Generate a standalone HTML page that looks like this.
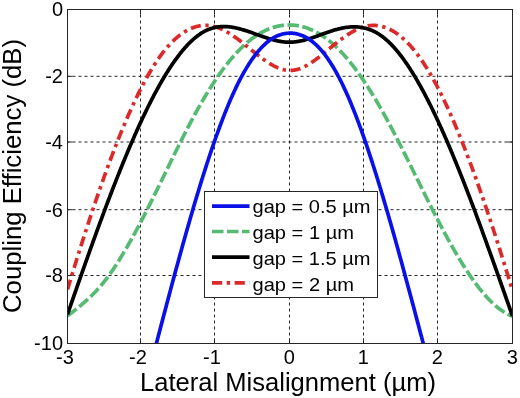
<!DOCTYPE html>
<html><head><meta charset="utf-8"><style>
html,body{margin:0;padding:0;background:#fff;}
svg{display:block;filter:blur(0.3px);}
text{font-family:"Liberation Sans", Arial, Helvetica, sans-serif;fill:#000;}
</style></head><body>
<svg width="520" height="398" viewBox="0 0 520 398">
<rect width="520" height="398" fill="#fff"/>
<defs><clipPath id="ax"><rect x="67.5" y="9.5" width="445.0" height="334.0"/></clipPath></defs>
<line x1="140.5" y1="9.5" x2="140.5" y2="343.5" stroke="#262626" stroke-width="1" stroke-dasharray="3,3" stroke-dashoffset="1"/>
<line x1="214.5" y1="9.5" x2="214.5" y2="343.5" stroke="#262626" stroke-width="1" stroke-dasharray="3,3" stroke-dashoffset="1"/>
<line x1="289.5" y1="9.5" x2="289.5" y2="343.5" stroke="#262626" stroke-width="1" stroke-dasharray="3,3" stroke-dashoffset="1"/>
<line x1="363.5" y1="9.5" x2="363.5" y2="343.5" stroke="#262626" stroke-width="1" stroke-dasharray="3,3" stroke-dashoffset="1"/>
<line x1="437.5" y1="9.5" x2="437.5" y2="343.5" stroke="#262626" stroke-width="1" stroke-dasharray="3,3" stroke-dashoffset="1"/>
<line x1="67.5" y1="76.3" x2="512.5" y2="76.3" stroke="#262626" stroke-width="1" stroke-dasharray="3,3" stroke-dashoffset="1"/>
<line x1="67.5" y1="142.0" x2="512.5" y2="142.0" stroke="#262626" stroke-width="1" stroke-dasharray="3,3" stroke-dashoffset="1"/>
<line x1="67.5" y1="209.7" x2="512.5" y2="209.7" stroke="#262626" stroke-width="1" stroke-dasharray="3,3" stroke-dashoffset="1"/>
<line x1="67.5" y1="275.5" x2="512.5" y2="275.5" stroke="#262626" stroke-width="1" stroke-dasharray="3,3" stroke-dashoffset="1"/>
<line x1="67.5" y1="343.5" x2="67.5" y2="338.5" stroke="#262626"/>
<line x1="67.5" y1="9.5" x2="67.5" y2="14.5" stroke="#262626"/>
<line x1="140.5" y1="343.5" x2="140.5" y2="338.5" stroke="#262626"/>
<line x1="140.5" y1="9.5" x2="140.5" y2="14.5" stroke="#262626"/>
<line x1="214.5" y1="343.5" x2="214.5" y2="338.5" stroke="#262626"/>
<line x1="214.5" y1="9.5" x2="214.5" y2="14.5" stroke="#262626"/>
<line x1="289.5" y1="343.5" x2="289.5" y2="338.5" stroke="#262626"/>
<line x1="289.5" y1="9.5" x2="289.5" y2="14.5" stroke="#262626"/>
<line x1="363.5" y1="343.5" x2="363.5" y2="338.5" stroke="#262626"/>
<line x1="363.5" y1="9.5" x2="363.5" y2="14.5" stroke="#262626"/>
<line x1="437.5" y1="343.5" x2="437.5" y2="338.5" stroke="#262626"/>
<line x1="437.5" y1="9.5" x2="437.5" y2="14.5" stroke="#262626"/>
<line x1="512.5" y1="343.5" x2="512.5" y2="338.5" stroke="#262626"/>
<line x1="512.5" y1="9.5" x2="512.5" y2="14.5" stroke="#262626"/>
<line x1="67.5" y1="9.5" x2="72.5" y2="9.5" stroke="#262626"/>
<line x1="512.5" y1="9.5" x2="507.5" y2="9.5" stroke="#262626"/>
<line x1="67.5" y1="76.3" x2="72.5" y2="76.3" stroke="#262626"/>
<line x1="512.5" y1="76.3" x2="507.5" y2="76.3" stroke="#262626"/>
<line x1="67.5" y1="142.0" x2="72.5" y2="142.0" stroke="#262626"/>
<line x1="512.5" y1="142.0" x2="507.5" y2="142.0" stroke="#262626"/>
<line x1="67.5" y1="209.7" x2="72.5" y2="209.7" stroke="#262626"/>
<line x1="512.5" y1="209.7" x2="507.5" y2="209.7" stroke="#262626"/>
<line x1="67.5" y1="275.5" x2="72.5" y2="275.5" stroke="#262626"/>
<line x1="512.5" y1="275.5" x2="507.5" y2="275.5" stroke="#262626"/>
<line x1="67.5" y1="343.5" x2="72.5" y2="343.5" stroke="#262626"/>
<line x1="512.5" y1="343.5" x2="507.5" y2="343.5" stroke="#262626"/>
<g clip-path="url(#ax)" stroke-linejoin="round">
<polyline points="67.50,315.96 68.24,315.39 68.98,314.82 69.72,314.24 70.47,313.66 71.21,313.09 71.95,312.51 72.69,311.93 73.43,311.34 74.17,310.76 74.92,310.17 75.66,309.58 76.40,308.98 77.14,308.38 77.88,307.78 78.62,307.17 79.37,306.56 80.11,305.95 80.85,305.33 81.59,304.70 82.33,304.07 83.08,303.43 83.82,302.79 84.56,302.14 85.30,301.48 86.04,300.82 86.78,300.15 87.53,299.47 88.27,298.79 89.01,298.09 89.75,297.39 90.49,296.68 91.23,295.96 91.98,295.23 92.72,294.49 93.46,293.74 94.20,292.99 94.94,292.22 95.68,291.44 96.43,290.65 97.17,289.85 97.91,289.04 98.65,288.21 99.39,287.38 100.13,286.53 100.88,285.67 101.62,284.80 102.36,283.91 103.10,283.01 103.84,282.10 104.58,281.17 105.32,280.23 106.07,279.27 106.81,278.30 107.55,277.32 108.29,276.32 109.03,275.30 109.78,274.27 110.52,273.23 111.26,272.17 112.00,271.10 112.74,270.02 113.48,268.92 114.22,267.81 114.97,266.69 115.71,265.56 116.45,264.41 117.19,263.25 117.93,262.09 118.67,260.91 119.42,259.72 120.16,258.52 120.90,257.31 121.64,256.09 122.38,254.87 123.12,253.63 123.87,252.39 124.61,251.13 125.35,249.87 126.09,248.60 126.83,247.33 127.58,246.04 128.32,244.75 129.06,243.45 129.80,242.14 130.54,240.83 131.28,239.50 132.03,238.17 132.77,236.84 133.51,235.49 134.25,234.14 134.99,232.78 135.73,231.42 136.48,230.04 137.22,228.67 137.96,227.28 138.70,225.89 139.44,224.49 140.18,223.09 140.93,221.68 141.67,220.26 142.41,218.84 143.15,217.41 143.89,215.98 144.63,214.54 145.38,213.10 146.12,211.65 146.86,210.19 147.60,208.73 148.34,207.27 149.08,205.80 149.83,204.32 150.57,202.84 151.31,201.36 152.05,199.88 152.79,198.39 153.53,196.89 154.27,195.40 155.02,193.90 155.76,192.39 156.50,190.89 157.24,189.38 157.98,187.87 158.72,186.36 159.47,184.85 160.21,183.33 160.95,181.81 161.69,180.30 162.43,178.78 163.18,177.26 163.92,175.74 164.66,174.22 165.40,172.70 166.14,171.18 166.88,169.65 167.62,168.13 168.37,166.61 169.11,165.10 169.85,163.58 170.59,162.06 171.33,160.55 172.07,159.03 172.82,157.52 173.56,156.01 174.30,154.50 175.04,153.00 175.78,151.49 176.52,149.99 177.27,148.50 178.01,147.00 178.75,145.51 179.49,144.03 180.23,142.55 180.98,141.07 181.72,139.59 182.46,138.12 183.20,136.66 183.94,135.20 184.68,133.74 185.43,132.29 186.17,130.85 186.91,129.41 187.65,127.97 188.39,126.55 189.13,125.12 189.88,123.71 190.62,122.30 191.36,120.90 192.10,119.51 192.84,118.12 193.58,116.74 194.32,115.37 195.07,114.01 195.81,112.65 196.55,111.30 197.29,109.96 198.03,108.63 198.78,107.31 199.52,106.00 200.26,104.70 201.00,103.40 201.74,102.12 202.48,100.84 203.22,99.57 203.97,98.31 204.71,97.06 205.45,95.83 206.19,94.60 206.93,93.37 207.68,92.16 208.42,90.96 209.16,89.77 209.90,88.59 210.64,87.41 211.38,86.25 212.12,85.10 212.87,83.95 213.61,82.82 214.35,81.70 215.09,80.58 215.83,79.48 216.58,78.38 217.32,77.30 218.06,76.22 218.80,75.16 219.54,74.11 220.28,73.06 221.02,72.03 221.77,71.01 222.51,69.99 223.25,68.99 223.99,68.00 224.73,67.02 225.47,66.05 226.22,65.09 226.96,64.14 227.70,63.20 228.44,62.27 229.18,61.36 229.92,60.45 230.67,59.55 231.41,58.67 232.15,57.80 232.89,56.93 233.63,56.08 234.38,55.24 235.12,54.41 235.86,53.60 236.60,52.79 237.34,51.99 238.08,51.21 238.83,50.44 239.57,49.68 240.31,48.93 241.05,48.19 241.79,47.46 242.53,46.75 243.28,46.04 244.02,45.35 244.76,44.67 245.50,44.00 246.24,43.35 246.98,42.70 247.73,42.07 248.47,41.45 249.21,40.84 249.95,40.25 250.69,39.66 251.43,39.09 252.18,38.53 252.92,37.98 253.66,37.44 254.40,36.92 255.14,36.41 255.88,35.90 256.62,35.42 257.37,34.94 258.11,34.47 258.85,34.02 259.59,33.57 260.33,33.14 261.07,32.72 261.82,32.31 262.56,31.91 263.30,31.53 264.04,31.15 264.78,30.79 265.52,30.44 266.27,30.10 267.01,29.77 267.75,29.45 268.49,29.15 269.23,28.85 269.98,28.57 270.72,28.29 271.46,28.03 272.20,27.78 272.94,27.54 273.68,27.31 274.43,27.10 275.17,26.89 275.91,26.69 276.65,26.51 277.39,26.33 278.13,26.17 278.88,26.02 279.62,25.88 280.36,25.75 281.10,25.63 281.84,25.52 282.58,25.42 283.33,25.33 284.07,25.25 284.81,25.19 285.55,25.13 286.29,25.08 287.03,25.05 287.78,25.02 288.52,25.01 289.26,25.01 290.00,25.01 290.74,25.03 291.48,25.06 292.23,25.09 292.97,25.14 293.71,25.20 294.45,25.27 295.19,25.35 295.93,25.44 296.68,25.54 297.42,25.65 298.16,25.77 298.90,25.91 299.64,26.05 300.38,26.20 301.12,26.37 301.87,26.54 302.61,26.73 303.35,26.93 304.09,27.13 304.83,27.35 305.58,27.58 306.32,27.82 307.06,28.07 307.80,28.34 308.54,28.61 309.28,28.90 310.02,29.19 310.77,29.50 311.51,29.82 312.25,30.14 312.99,30.48 313.73,30.84 314.48,31.20 315.22,31.57 315.96,31.96 316.70,32.35 317.44,32.76 318.18,33.18 318.93,33.61 319.67,34.05 320.41,34.51 321.15,34.97 321.89,35.45 322.63,35.93 323.38,36.43 324.12,36.94 324.86,37.47 325.60,38.00 326.34,38.55 327.08,39.10 327.83,39.67 328.57,40.26 329.31,40.85 330.05,41.45 330.79,42.07 331.53,42.70 332.28,43.34 333.02,43.99 333.76,44.65 334.50,45.33 335.24,46.02 335.98,46.72 336.72,47.43 337.47,48.15 338.21,48.88 338.95,49.63 339.69,50.39 340.43,51.16 341.18,51.94 341.92,52.73 342.66,53.53 343.40,54.35 344.14,55.17 344.88,56.01 345.62,56.85 346.37,57.71 347.11,58.58 347.85,59.46 348.59,60.35 349.33,61.25 350.07,62.16 350.82,63.09 351.56,64.02 352.30,64.96 353.04,65.92 353.78,66.88 354.53,67.85 355.27,68.84 356.01,69.83 356.75,70.84 357.49,71.85 358.23,72.88 358.98,73.91 359.72,74.95 360.46,76.01 361.20,77.07 361.94,78.15 362.68,79.23 363.43,80.32 364.17,81.42 364.91,82.54 365.65,83.66 366.39,84.79 367.13,85.93 367.87,87.07 368.62,88.23 369.36,89.40 370.10,90.57 370.84,91.76 371.58,92.95 372.33,94.15 373.07,95.37 373.81,96.59 374.55,97.81 375.29,99.05 376.03,100.30 376.77,101.55 377.52,102.81 378.26,104.08 379.00,105.36 379.74,106.65 380.48,107.94 381.23,109.25 381.97,110.56 382.71,111.88 383.45,113.21 384.19,114.54 384.93,115.88 385.68,117.23 386.42,118.59 387.16,119.95 387.90,121.32 388.64,122.70 389.38,124.09 390.13,125.48 390.87,126.87 391.61,128.28 392.35,129.68 393.09,131.10 393.83,132.52 394.57,133.94 395.32,135.37 396.06,136.81 396.80,138.25 397.54,139.69 398.28,141.14 399.02,142.59 399.77,144.05 400.51,145.51 401.25,146.97 401.99,148.44 402.73,149.91 403.48,151.39 404.22,152.86 404.96,154.34 405.70,155.83 406.44,157.31 407.18,158.80 407.93,160.29 408.67,161.78 409.41,163.27 410.15,164.77 410.89,166.27 411.63,167.76 412.38,169.26 413.12,170.76 413.86,172.26 414.60,173.76 415.34,175.27 416.08,176.77 416.82,178.27 417.57,179.77 418.31,181.27 419.05,182.77 419.79,184.27 420.53,185.77 421.28,187.27 422.02,188.77 422.76,190.26 423.50,191.76 424.24,193.25 424.98,194.74 425.73,196.23 426.47,197.71 427.21,199.20 427.95,200.68 428.69,202.16 429.43,203.63 430.17,205.10 430.92,206.57 431.66,208.04 432.40,209.50 433.14,210.96 433.88,212.41 434.63,213.86 435.37,215.31 436.11,216.75 436.85,218.18 437.59,219.62 438.33,221.04 439.07,222.47 439.82,223.88 440.56,225.29 441.30,226.70 442.04,228.10 442.78,229.49 443.53,230.88 444.27,232.27 445.01,233.64 445.75,235.01 446.49,236.38 447.23,237.73 447.97,239.09 448.72,240.43 449.46,241.77 450.20,243.10 450.94,244.42 451.68,245.74 452.43,247.05 453.17,248.35 453.91,249.64 454.65,250.93 455.39,252.20 456.13,253.47 456.88,254.73 457.62,255.99 458.36,257.23 459.10,258.47 459.84,259.69 460.58,260.91 461.33,262.12 462.07,263.32 462.81,264.51 463.55,265.69 464.29,266.86 465.03,268.03 465.78,269.18 466.52,270.32 467.26,271.45 468.00,272.57 468.74,273.69 469.48,274.79 470.22,275.88 470.97,276.96 471.71,278.03 472.45,279.08 473.19,280.13 473.93,281.17 474.68,282.19 475.42,283.20 476.16,284.20 476.90,285.19 477.64,286.17 478.38,287.13 479.12,288.09 479.87,289.03 480.61,289.95 481.35,290.87 482.09,291.77 482.83,292.66 483.58,293.54 484.32,294.40 485.06,295.25 485.80,296.09 486.54,296.91 487.28,297.72 488.02,298.51 488.77,299.30 489.51,300.06 490.25,300.82 490.99,301.56 491.73,302.28 492.48,302.99 493.22,303.68 493.96,304.37 494.70,305.03 495.44,305.68 496.18,306.31 496.93,306.93 497.67,307.54 498.41,308.13 499.15,308.70 499.89,309.25 500.63,309.79 501.38,310.32 502.12,310.83 502.86,311.32 503.60,311.79 504.34,312.25 505.08,312.69 505.82,313.11 506.57,313.52 507.31,313.91 508.05,314.28 508.79,314.64 509.53,314.97 510.27,315.29 511.02,315.59 511.76,315.87 512.50,316.14" fill="none" stroke="#55bb72" stroke-width="3.7" stroke-dasharray="11.5,3.5"/>
<polyline points="67.50,289.46 68.24,287.02 68.98,284.59 69.72,282.16 70.47,279.73 71.21,277.31 71.95,274.90 72.69,272.49 73.43,270.09 74.17,267.69 74.92,265.30 75.66,262.92 76.40,260.54 77.14,258.17 77.88,255.80 78.62,253.44 79.37,251.09 80.11,248.74 80.85,246.40 81.59,244.07 82.33,241.74 83.08,239.43 83.82,237.11 84.56,234.81 85.30,232.51 86.04,230.22 86.78,227.94 87.53,225.66 88.27,223.40 89.01,221.14 89.75,218.89 90.49,216.64 91.23,214.41 91.98,212.18 92.72,209.96 93.46,207.75 94.20,205.55 94.94,203.36 95.68,201.17 96.43,199.00 97.17,196.83 97.91,194.67 98.65,192.52 99.39,190.38 100.13,188.25 100.88,186.13 101.62,184.02 102.36,181.92 103.10,179.83 103.84,177.75 104.58,175.68 105.32,173.62 106.07,171.56 106.81,169.52 107.55,167.49 108.29,165.47 109.03,163.46 109.78,161.46 110.52,159.48 111.26,157.50 112.00,155.53 112.74,153.58 113.48,151.63 114.22,149.70 114.97,147.78 115.71,145.87 116.45,143.97 117.19,142.08 117.93,140.21 118.67,138.35 119.42,136.50 120.16,134.66 120.90,132.83 121.64,131.02 122.38,129.21 123.12,127.43 123.87,125.65 124.61,123.88 125.35,122.13 126.09,120.40 126.83,118.67 127.58,116.96 128.32,115.26 129.06,113.57 129.80,111.90 130.54,110.24 131.28,108.60 132.03,106.97 132.77,105.35 133.51,103.75 134.25,102.16 134.99,100.58 135.73,99.02 136.48,97.48 137.22,95.94 137.96,94.43 138.70,92.92 139.44,91.44 140.18,89.96 140.93,88.50 141.67,87.06 142.41,85.63 143.15,84.22 143.89,82.82 144.63,81.44 145.38,80.08 146.12,78.73 146.86,77.39 147.60,76.07 148.34,74.77 149.08,73.48 149.83,72.21 150.57,70.96 151.31,69.72 152.05,68.50 152.79,67.29 153.53,66.11 154.27,64.93 155.02,63.78 155.76,62.64 156.50,61.52 157.24,60.42 157.98,59.33 158.72,58.27 159.47,57.21 160.21,56.18 160.95,55.17 161.69,54.17 162.43,53.19 163.18,52.22 163.92,51.28 164.66,50.35 165.40,49.44 166.14,48.55 166.88,47.67 167.62,46.81 168.37,45.97 169.11,45.15 169.85,44.34 170.59,43.55 171.33,42.78 172.07,42.02 172.82,41.28 173.56,40.56 174.30,39.86 175.04,39.17 175.78,38.50 176.52,37.85 177.27,37.21 178.01,36.59 178.75,35.99 179.49,35.41 180.23,34.84 180.98,34.29 181.72,33.75 182.46,33.23 183.20,32.73 183.94,32.25 184.68,31.78 185.43,31.33 186.17,30.90 186.91,30.48 187.65,30.08 188.39,29.70 189.13,29.33 189.88,28.98 190.62,28.64 191.36,28.32 192.10,28.02 192.84,27.74 193.58,27.47 194.32,27.22 195.07,26.98 195.81,26.76 196.55,26.56 197.29,26.37 198.03,26.20 198.78,26.05 199.52,25.91 200.26,25.79 201.00,25.68 201.74,25.59 202.48,25.52 203.22,25.46 203.97,25.42 204.71,25.40 205.45,25.39 206.19,25.40 206.93,25.42 207.68,25.46 208.42,25.51 209.16,25.58 209.90,25.67 210.64,25.77 211.38,25.89 212.12,26.03 212.87,26.18 213.61,26.34 214.35,26.52 215.09,26.72 215.83,26.93 216.58,27.16 217.32,27.41 218.06,27.67 218.80,27.94 219.54,28.23 220.28,28.54 221.02,28.86 221.77,29.19 222.51,29.54 223.25,29.90 223.99,30.28 224.73,30.66 225.47,31.06 226.22,31.48 226.96,31.90 227.70,32.33 228.44,32.78 229.18,33.23 229.92,33.70 230.67,34.18 231.41,34.66 232.15,35.16 232.89,35.66 233.63,36.17 234.38,36.69 235.12,37.22 235.86,37.75 236.60,38.29 237.34,38.84 238.08,39.39 238.83,39.95 239.57,40.52 240.31,41.09 241.05,41.66 241.79,42.24 242.53,42.82 243.28,43.41 244.02,44.00 244.76,44.59 245.50,45.18 246.24,45.78 246.98,46.38 247.73,46.98 248.47,47.58 249.21,48.18 249.95,48.78 250.69,49.38 251.43,49.99 252.18,50.59 252.92,51.19 253.66,51.78 254.40,52.38 255.14,52.97 255.88,53.56 256.62,54.15 257.37,54.73 258.11,55.31 258.85,55.89 259.59,56.46 260.33,57.02 261.07,57.58 261.82,58.14 262.56,58.68 263.30,59.22 264.04,59.75 264.78,60.28 265.52,60.79 266.27,61.30 267.01,61.80 267.75,62.29 268.49,62.77 269.23,63.24 269.98,63.69 270.72,64.14 271.46,64.58 272.20,65.00 272.94,65.41 273.68,65.81 274.43,66.19 275.17,66.56 275.91,66.92 276.65,67.26 277.39,67.59 278.13,67.90 278.88,68.20 279.62,68.48 280.36,68.74 281.10,68.99 281.84,69.22 282.58,69.43 283.33,69.62 284.07,69.80 284.81,69.95 285.55,70.09 286.29,70.20 287.03,70.30 287.78,70.37 288.52,70.43 289.26,70.46 290.00,70.47 290.74,70.45 291.48,70.42 292.23,70.36 292.97,70.28 293.71,70.18 294.45,70.06 295.19,69.92 295.93,69.77 296.68,69.59 297.42,69.39 298.16,69.17 298.90,68.94 299.64,68.68 300.38,68.41 301.12,68.13 301.87,67.82 302.61,67.50 303.35,67.17 304.09,66.81 304.83,66.45 305.58,66.06 306.32,65.67 307.06,65.26 307.80,64.83 308.54,64.40 309.28,63.95 310.02,63.48 310.77,63.01 311.51,62.52 312.25,62.02 312.99,61.52 313.73,61.00 314.48,60.47 315.22,59.93 315.96,59.38 316.70,58.83 317.44,58.27 318.18,57.70 318.93,57.12 319.67,56.54 320.41,55.95 321.15,55.36 321.89,54.76 322.63,54.16 323.38,53.56 324.12,52.95 324.86,52.34 325.60,51.73 326.34,51.12 327.08,50.51 327.83,49.90 328.57,49.29 329.31,48.68 330.05,48.07 330.79,47.46 331.53,46.85 332.28,46.25 333.02,45.65 333.76,45.05 334.50,44.45 335.24,43.86 335.98,43.27 336.72,42.69 337.47,42.11 338.21,41.53 338.95,40.96 339.69,40.39 340.43,39.83 341.18,39.28 341.92,38.73 342.66,38.19 343.40,37.65 344.14,37.12 344.88,36.60 345.62,36.09 346.37,35.59 347.11,35.09 347.85,34.60 348.59,34.12 349.33,33.66 350.07,33.20 350.82,32.75 351.56,32.31 352.30,31.88 353.04,31.46 353.78,31.06 354.53,30.66 355.27,30.28 356.01,29.91 356.75,29.55 357.49,29.21 358.23,28.87 358.98,28.55 359.72,28.25 360.46,27.96 361.20,27.68 361.94,27.42 362.68,27.18 363.43,26.95 364.17,26.73 364.91,26.53 365.65,26.35 366.39,26.18 367.13,26.03 367.87,25.90 368.62,25.78 369.36,25.68 370.10,25.59 370.84,25.53 371.58,25.47 372.33,25.44 373.07,25.42 373.81,25.42 374.55,25.43 375.29,25.46 376.03,25.51 376.77,25.57 377.52,25.65 378.26,25.75 379.00,25.86 379.74,25.99 380.48,26.13 381.23,26.29 381.97,26.47 382.71,26.67 383.45,26.88 384.19,27.11 384.93,27.35 385.68,27.61 386.42,27.89 387.16,28.18 387.90,28.50 388.64,28.82 389.38,29.17 390.13,29.53 390.87,29.90 391.61,30.30 392.35,30.71 393.09,31.13 393.83,31.58 394.57,32.04 395.32,32.51 396.06,33.01 396.80,33.52 397.54,34.04 398.28,34.59 399.02,35.15 399.77,35.72 400.51,36.32 401.25,36.93 401.99,37.55 402.73,38.20 403.48,38.85 404.22,39.53 404.96,40.22 405.70,40.93 406.44,41.66 407.18,42.41 407.93,43.17 408.67,43.94 409.41,44.74 410.15,45.55 410.89,46.37 411.63,47.22 412.38,48.08 413.12,48.96 413.86,49.85 414.60,50.76 415.34,51.69 416.08,52.64 416.82,53.60 417.57,54.58 418.31,55.57 419.05,56.58 419.79,57.61 420.53,58.66 421.28,59.72 422.02,60.80 422.76,61.90 423.50,63.01 424.24,64.14 424.98,65.29 425.73,66.45 426.47,67.63 427.21,68.83 427.95,70.04 428.69,71.27 429.43,72.52 430.17,73.78 430.92,75.06 431.66,76.35 432.40,77.66 433.14,78.98 433.88,80.32 434.63,81.68 435.37,83.05 436.11,84.43 436.85,85.84 437.59,87.25 438.33,88.68 439.07,90.13 439.82,91.59 440.56,93.06 441.30,94.55 442.04,96.06 442.78,97.58 443.53,99.11 444.27,100.66 445.01,102.22 445.75,103.79 446.49,105.38 447.23,106.99 447.97,108.60 448.72,110.23 449.46,111.88 450.20,113.53 450.94,115.20 451.68,116.89 452.43,118.58 453.17,120.29 453.91,122.01 454.65,123.75 455.39,125.50 456.13,127.26 456.88,129.03 457.62,130.82 458.36,132.61 459.10,134.42 459.84,136.25 460.58,138.08 461.33,139.93 462.07,141.78 462.81,143.65 463.55,145.53 464.29,147.43 465.03,149.33 465.78,151.25 466.52,153.17 467.26,155.11 468.00,157.06 468.74,159.02 469.48,160.99 470.22,162.97 470.97,164.96 471.71,166.97 472.45,168.98 473.19,171.00 473.93,173.04 474.68,175.08 475.42,177.13 476.16,179.20 476.90,181.27 477.64,183.35 478.38,185.45 479.12,187.55 479.87,189.66 480.61,191.78 481.35,193.92 482.09,196.06 482.83,198.21 483.58,200.36 484.32,202.53 485.06,204.71 485.80,206.89 486.54,209.08 487.28,211.29 488.02,213.50 488.77,215.71 489.51,217.94 490.25,220.18 490.99,222.42 491.73,224.67 492.48,226.93 493.22,229.19 493.96,231.47 494.70,233.75 495.44,236.04 496.18,238.33 496.93,240.64 497.67,242.95 498.41,245.27 499.15,247.59 499.89,249.92 500.63,252.26 501.38,254.61 502.12,256.96 502.86,259.31 503.60,261.68 504.34,264.05 505.08,266.43 505.82,268.81 506.57,271.20 507.31,273.59 508.05,275.99 508.79,278.40 509.53,280.81 510.27,283.23 511.02,285.65 511.76,288.08 512.50,290.51" fill="none" stroke="#dc2a2a" stroke-width="3.7" stroke-dasharray="10.2,4.5,3.4,4.5"/>
<polyline points="67.50,314.43 68.24,312.28 68.98,310.14 69.72,308.00 70.47,305.86 71.21,303.72 71.95,301.59 72.69,299.45 73.43,297.32 74.17,295.19 74.92,293.06 75.66,290.93 76.40,288.80 77.14,286.68 77.88,284.56 78.62,282.44 79.37,280.32 80.11,278.20 80.85,276.09 81.59,273.98 82.33,271.87 83.08,269.77 83.82,267.67 84.56,265.57 85.30,263.47 86.04,261.38 86.78,259.29 87.53,257.21 88.27,255.12 89.01,253.04 89.75,250.97 90.49,248.90 91.23,246.83 91.98,244.77 92.72,242.71 93.46,240.65 94.20,238.60 94.94,236.55 95.68,234.51 96.43,232.47 97.17,230.43 97.91,228.41 98.65,226.38 99.39,224.36 100.13,222.35 100.88,220.34 101.62,218.33 102.36,216.33 103.10,214.34 103.84,212.35 104.58,210.36 105.32,208.38 106.07,206.41 106.81,204.45 107.55,202.48 108.29,200.53 109.03,198.58 109.78,196.64 110.52,194.70 111.26,192.77 112.00,190.85 112.74,188.93 113.48,187.02 114.22,185.11 114.97,183.21 115.71,181.32 116.45,179.44 117.19,177.56 117.93,175.69 118.67,173.83 119.42,171.97 120.16,170.13 120.90,168.29 121.64,166.45 122.38,164.63 123.12,162.81 123.87,161.00 124.61,159.20 125.35,157.41 126.09,155.62 126.83,153.84 127.58,152.07 128.32,150.31 129.06,148.56 129.80,146.82 130.54,145.08 131.28,143.36 132.03,141.64 132.77,139.93 133.51,138.23 134.25,136.54 134.99,134.86 135.73,133.19 136.48,131.53 137.22,129.87 137.96,128.23 138.70,126.60 139.44,124.97 140.18,123.36 140.93,121.76 141.67,120.16 142.41,118.58 143.15,117.01 143.89,115.44 144.63,113.89 145.38,112.35 146.12,110.82 146.86,109.30 147.60,107.79 148.34,106.29 149.08,104.80 149.83,103.32 150.57,101.86 151.31,100.40 152.05,98.96 152.79,97.53 153.53,96.11 154.27,94.70 155.02,93.30 155.76,91.91 156.50,90.54 157.24,89.18 157.98,87.83 158.72,86.49 159.47,85.17 160.21,83.86 160.95,82.56 161.69,81.27 162.43,79.99 163.18,78.73 163.92,77.48 164.66,76.25 165.40,75.02 166.14,73.81 166.88,72.62 167.62,71.43 168.37,70.26 169.11,69.10 169.85,67.96 170.59,66.83 171.33,65.72 172.07,64.61 172.82,63.53 173.56,62.45 174.30,61.39 175.04,60.34 175.78,59.31 176.52,58.30 177.27,57.29 178.01,56.30 178.75,55.33 179.49,54.37 180.23,53.43 180.98,52.50 181.72,51.59 182.46,50.69 183.20,49.80 183.94,48.93 184.68,48.08 185.43,47.24 186.17,46.42 186.91,45.62 187.65,44.82 188.39,44.05 189.13,43.29 189.88,42.55 190.62,41.82 191.36,41.11 192.10,40.42 192.84,39.74 193.58,39.08 194.32,38.43 195.07,37.81 195.81,37.20 196.55,36.60 197.29,36.02 198.03,35.46 198.78,34.92 199.52,34.40 200.26,33.89 201.00,33.40 201.74,32.92 202.48,32.47 203.22,32.03 203.97,31.61 204.71,31.21 205.45,30.82 206.19,30.45 206.93,30.11 207.68,29.78 208.42,29.46 209.16,29.17 209.90,28.89 210.64,28.63 211.38,28.39 212.12,28.16 212.87,27.95 213.61,27.75 214.35,27.57 215.09,27.41 215.83,27.26 216.58,27.13 217.32,27.01 218.06,26.90 218.80,26.81 219.54,26.73 220.28,26.67 221.02,26.62 221.77,26.58 222.51,26.55 223.25,26.54 223.99,26.54 224.73,26.55 225.47,26.58 226.22,26.61 226.96,26.66 227.70,26.71 228.44,26.78 229.18,26.85 229.92,26.94 230.67,27.04 231.41,27.14 232.15,27.26 232.89,27.38 233.63,27.52 234.38,27.66 235.12,27.81 235.86,27.96 236.60,28.13 237.34,28.30 238.08,28.48 238.83,28.66 239.57,28.86 240.31,29.05 241.05,29.26 241.79,29.47 242.53,29.68 243.28,29.90 244.02,30.13 244.76,30.36 245.50,30.59 246.24,30.83 246.98,31.07 247.73,31.31 248.47,31.56 249.21,31.81 249.95,32.07 250.69,32.32 251.43,32.58 252.18,32.84 252.92,33.10 253.66,33.37 254.40,33.63 255.14,33.90 255.88,34.16 256.62,34.43 257.37,34.69 258.11,34.96 258.85,35.22 259.59,35.49 260.33,35.75 261.07,36.01 261.82,36.27 262.56,36.53 263.30,36.78 264.04,37.04 264.78,37.29 265.52,37.53 266.27,37.78 267.01,38.02 267.75,38.25 268.49,38.49 269.23,38.71 269.98,38.94 270.72,39.16 271.46,39.37 272.20,39.58 272.94,39.78 273.68,39.98 274.43,40.17 275.17,40.35 275.91,40.52 276.65,40.69 277.39,40.86 278.13,41.01 278.88,41.16 279.62,41.30 280.36,41.42 281.10,41.55 281.84,41.66 282.58,41.76 283.33,41.85 284.07,41.94 284.81,42.01 285.55,42.07 286.29,42.13 287.03,42.17 287.78,42.20 288.52,42.22 289.26,42.23 290.00,42.22 290.74,42.20 291.48,42.17 292.23,42.13 292.97,42.08 293.71,42.02 294.45,41.95 295.19,41.86 295.93,41.77 296.68,41.66 297.42,41.55 298.16,41.43 298.90,41.30 299.64,41.15 300.38,41.01 301.12,40.85 301.87,40.68 302.61,40.51 303.35,40.33 304.09,40.14 304.83,39.95 305.58,39.75 306.32,39.54 307.06,39.33 307.80,39.11 308.54,38.89 309.28,38.66 310.02,38.43 310.77,38.19 311.51,37.95 312.25,37.71 312.99,37.46 313.73,37.21 314.48,36.95 315.22,36.70 315.96,36.44 316.70,36.18 317.44,35.91 318.18,35.65 318.93,35.38 319.67,35.12 320.41,34.85 321.15,34.58 321.89,34.32 322.63,34.05 323.38,33.78 324.12,33.52 324.86,33.26 325.60,32.99 326.34,32.73 327.08,32.47 327.83,32.22 328.57,31.96 329.31,31.71 330.05,31.47 330.79,31.22 331.53,30.98 332.28,30.75 333.02,30.51 333.76,30.29 334.50,30.07 335.24,29.85 335.98,29.64 336.72,29.43 337.47,29.23 338.21,29.04 338.95,28.86 339.69,28.68 340.43,28.50 341.18,28.34 341.92,28.18 342.66,28.03 343.40,27.89 344.14,27.76 344.88,27.64 345.62,27.52 346.37,27.41 347.11,27.31 347.85,27.22 348.59,27.14 349.33,27.07 350.07,27.01 350.82,26.96 351.56,26.92 352.30,26.89 353.04,26.87 353.78,26.86 354.53,26.86 355.27,26.87 356.01,26.89 356.75,26.93 357.49,26.97 358.23,27.03 358.98,27.10 359.72,27.18 360.46,27.28 361.20,27.39 361.94,27.51 362.68,27.64 363.43,27.78 364.17,27.94 364.91,28.12 365.65,28.30 366.39,28.50 367.13,28.72 367.87,28.95 368.62,29.19 369.36,29.45 370.10,29.72 370.84,30.01 371.58,30.32 372.33,30.64 373.07,30.97 373.81,31.32 374.55,31.69 375.29,32.07 376.03,32.47 376.77,32.89 377.52,33.32 378.26,33.77 379.00,34.24 379.74,34.72 380.48,35.23 381.23,35.75 381.97,36.28 382.71,36.84 383.45,37.41 384.19,38.01 384.93,38.61 385.68,39.24 386.42,39.88 387.16,40.54 387.90,41.22 388.64,41.92 389.38,42.63 390.13,43.36 390.87,44.10 391.61,44.86 392.35,45.64 393.09,46.44 393.83,47.25 394.57,48.07 395.32,48.92 396.06,49.78 396.80,50.65 397.54,51.54 398.28,52.45 399.02,53.37 399.77,54.31 400.51,55.26 401.25,56.23 401.99,57.21 402.73,58.21 403.48,59.22 404.22,60.25 404.96,61.29 405.70,62.35 406.44,63.42 407.18,64.50 407.93,65.60 408.67,66.72 409.41,67.85 410.15,68.99 410.89,70.15 411.63,71.32 412.38,72.50 413.12,73.70 413.86,74.91 414.60,76.14 415.34,77.38 416.08,78.63 416.82,79.89 417.57,81.17 418.31,82.46 419.05,83.76 419.79,85.08 420.53,86.41 421.28,87.75 422.02,89.10 422.76,90.47 423.50,91.85 424.24,93.24 424.98,94.64 425.73,96.06 426.47,97.48 427.21,98.92 427.95,100.37 428.69,101.83 429.43,103.30 430.17,104.79 430.92,106.28 431.66,107.79 432.40,109.30 433.14,110.83 433.88,112.37 434.63,113.92 435.37,115.48 436.11,117.05 436.85,118.63 437.59,120.22 438.33,121.82 439.07,123.44 439.82,125.06 440.56,126.69 441.30,128.33 442.04,129.98 442.78,131.64 443.53,133.31 444.27,134.99 445.01,136.68 445.75,138.38 446.49,140.09 447.23,141.80 447.97,143.53 448.72,145.26 449.46,147.00 450.20,148.75 450.94,150.51 451.68,152.28 452.43,154.06 453.17,155.84 453.91,157.63 454.65,159.43 455.39,161.24 456.13,163.06 456.88,164.88 457.62,166.71 458.36,168.55 459.10,170.40 459.84,172.25 460.58,174.11 461.33,175.98 462.07,177.85 462.81,179.74 463.55,181.62 464.29,183.52 465.03,185.42 465.78,187.33 466.52,189.24 467.26,191.16 468.00,193.09 468.74,195.02 469.48,196.96 470.22,198.91 470.97,200.86 471.71,202.81 472.45,204.77 473.19,206.74 473.93,208.71 474.68,210.69 475.42,212.67 476.16,214.66 476.90,216.65 477.64,218.65 478.38,220.65 479.12,222.66 479.87,224.67 480.61,226.69 481.35,228.71 482.09,230.73 482.83,232.76 483.58,234.79 484.32,236.83 485.06,238.87 485.80,240.91 486.54,242.96 487.28,245.01 488.02,247.07 488.77,249.13 489.51,251.19 490.25,253.25 490.99,255.32 491.73,257.39 492.48,259.46 493.22,261.54 493.96,263.62 494.70,265.70 495.44,267.78 496.18,269.87 496.93,271.96 497.67,274.05 498.41,276.14 499.15,278.23 499.89,280.33 500.63,282.43 501.38,284.53 502.12,286.63 502.86,288.73 503.60,290.83 504.34,292.94 505.08,295.04 505.82,297.15 506.57,299.26 507.31,301.37 508.05,303.47 508.79,305.58 509.53,307.69 510.27,309.81 511.02,311.92 511.76,314.03 512.50,316.14" fill="none" stroke="#000" stroke-width="3.7"/>
<polyline points="149.08,371.49 149.83,368.64 150.57,365.80 151.31,362.96 152.05,360.11 152.79,357.27 153.53,354.42 154.28,351.58 155.02,348.74 155.76,345.90 156.50,343.06 157.24,340.22 157.98,337.39 158.72,334.55 159.47,331.72 160.21,328.89 160.95,326.06 161.69,323.24 162.43,320.42 163.18,317.60 163.92,314.78 164.66,311.97 165.40,309.16 166.14,306.36 166.88,303.56 167.62,300.76 168.37,297.97 169.11,295.19 169.85,292.40 170.59,289.63 171.33,286.85 172.07,284.09 172.82,281.33 173.56,278.57 174.30,275.82 175.04,273.08 175.78,270.34 176.53,267.61 177.27,264.89 178.01,262.17 178.75,259.47 179.49,256.76 180.23,254.07 180.98,251.38 181.72,248.70 182.46,246.03 183.20,243.37 183.94,240.72 184.68,238.08 185.43,235.44 186.17,232.81 186.91,230.20 187.65,227.59 188.39,224.99 189.13,222.40 189.88,219.82 190.62,217.26 191.36,214.70 192.10,212.15 192.84,209.62 193.58,207.09 194.32,204.58 195.07,202.08 195.81,199.59 196.55,197.11 197.29,194.65 198.03,192.19 198.78,189.75 199.52,187.32 200.26,184.91 201.00,182.50 201.74,180.11 202.48,177.74 203.22,175.37 203.97,173.03 204.71,170.69 205.45,168.37 206.19,166.07 206.93,163.77 207.68,161.50 208.42,159.24 209.16,156.99 209.90,154.76 210.64,152.54 211.38,150.34 212.12,148.16 212.87,145.99 213.61,143.84 214.35,141.71 215.09,139.59 215.83,137.49 216.58,135.40 217.32,133.34 218.06,131.29 218.80,129.26 219.54,127.24 220.28,125.25 221.03,123.27 221.77,121.31 222.51,119.37 223.25,117.45 223.99,115.55 224.73,113.67 225.47,111.81 226.22,109.96 226.96,108.14 227.70,106.34 228.44,104.56 229.18,102.79 229.93,101.05 230.67,99.33 231.41,97.63 232.15,95.95 232.89,94.30 233.63,92.66 234.38,91.05 235.12,89.46 235.86,87.89 236.60,86.34 237.34,84.82 238.08,83.31 238.83,81.84 239.57,80.38 240.31,78.95 241.05,77.54 241.79,76.16 242.53,74.80 243.28,73.46 244.02,72.14 244.76,70.85 245.50,69.59 246.24,68.34 246.98,67.12 247.73,65.92 248.47,64.74 249.21,63.58 249.95,62.45 250.69,61.34 251.43,60.25 252.18,59.18 252.92,58.13 253.66,57.11 254.40,56.10 255.14,55.12 255.88,54.16 256.62,53.23 257.37,52.31 258.11,51.42 258.85,50.55 259.59,49.70 260.33,48.87 261.08,48.06 261.82,47.27 262.56,46.51 263.30,45.77 264.04,45.05 264.78,44.35 265.52,43.67 266.27,43.02 267.01,42.39 267.75,41.77 268.49,41.18 269.23,40.62 269.98,40.07 270.72,39.54 271.46,39.04 272.20,38.56 272.94,38.10 273.68,37.66 274.43,37.24 275.17,36.85 275.91,36.48 276.65,36.12 277.39,35.79 278.13,35.48 278.88,35.19 279.62,34.92 280.36,34.67 281.10,34.44 281.84,34.23 282.58,34.03 283.33,33.86 284.07,33.71 284.81,33.57 285.55,33.46 286.29,33.36 287.03,33.28 287.78,33.22 288.52,33.17 289.26,33.15 290.00,33.14 290.74,33.15 291.48,33.17 292.23,33.21 292.97,33.27 293.71,33.35 294.45,33.45 295.19,33.56 295.93,33.69 296.68,33.84 297.42,34.01 298.16,34.20 298.90,34.41 299.64,34.63 300.38,34.88 301.12,35.14 301.87,35.42 302.61,35.72 303.35,36.05 304.09,36.39 304.83,36.75 305.58,37.13 306.32,37.54 307.06,37.96 307.80,38.40 308.54,38.87 309.28,39.35 310.02,39.86 310.77,40.39 311.51,40.94 312.25,41.51 312.99,42.10 313.73,42.72 314.48,43.36 315.22,44.02 315.96,44.70 316.70,45.40 317.44,46.13 318.18,46.88 318.93,47.65 319.67,48.45 320.41,49.27 321.15,50.11 321.89,50.98 322.63,51.87 323.38,52.78 324.12,53.72 324.86,54.68 325.60,55.66 326.34,56.67 327.08,57.70 327.83,58.76 328.57,59.84 329.31,60.94 330.05,62.07 330.79,63.22 331.53,64.39 332.28,65.59 333.02,66.81 333.76,68.05 334.50,69.32 335.24,70.61 335.98,71.92 336.73,73.26 337.47,74.62 338.21,76.00 338.95,77.41 339.69,78.84 340.43,80.30 341.18,81.78 341.92,83.28 342.66,84.81 343.40,86.35 344.14,87.93 344.88,89.52 345.62,91.14 346.37,92.78 347.11,94.44 347.85,96.12 348.59,97.83 349.33,99.56 350.07,101.31 350.82,103.08 351.56,104.87 352.30,106.68 353.04,108.51 353.78,110.36 354.53,112.24 355.27,114.13 356.01,116.04 356.75,117.97 357.49,119.92 358.23,121.89 358.98,123.88 359.72,125.89 360.46,127.91 361.20,129.96 361.94,132.02 362.68,134.10 363.43,136.20 364.17,138.31 364.91,140.44 365.65,142.59 366.39,144.75 367.13,146.93 367.88,149.13 368.62,151.34 369.36,153.57 370.10,155.82 370.84,158.08 371.58,160.35 372.33,162.64 373.07,164.95 373.81,167.27 374.55,169.60 375.29,171.95 376.03,174.31 376.77,176.68 377.52,179.07 378.26,181.47 379.00,183.89 379.74,186.32 380.48,188.76 381.23,191.21 381.97,193.67 382.71,196.15 383.45,198.64 384.19,201.14 384.93,203.65 385.68,206.17 386.42,208.70 387.16,211.25 387.90,213.80 388.64,216.36 389.38,218.94 390.12,221.52 390.87,224.11 391.61,226.72 392.35,229.33 393.09,231.95 393.83,234.58 394.57,237.22 395.32,239.86 396.06,242.52 396.80,245.18 397.54,247.85 398.28,250.52 399.03,253.21 399.77,255.90 400.51,258.60 401.25,261.30 401.99,264.01 402.73,266.73 403.48,269.45 404.22,272.18 404.96,274.91 405.70,277.65 406.44,280.40 407.18,283.15 407.93,285.90 408.67,288.66 409.41,291.42 410.15,294.19 410.89,296.96 411.63,299.73 412.38,302.51 413.12,305.29 413.86,308.07 414.60,310.85 415.34,313.64 416.08,316.43 416.82,319.22 417.57,322.02 418.31,324.81 419.05,327.61 419.79,330.41 420.53,333.21 421.27,336.01 422.02,338.81 422.76,341.61 423.50,344.41 424.24,347.21 424.98,350.01 425.73,352.81 426.47,355.61 427.21,358.41 427.95,361.20 428.69,364.00 429.43,366.79 430.18,369.58 430.92,372.37" fill="none" stroke="#0a10e8" stroke-width="3.7"/>
</g>
<rect x="67.5" y="9.5" width="445.0" height="334.0" fill="none" stroke="#262626" stroke-width="1"/>
<g font-size="20">
<text x="65.0" y="364.2" text-anchor="middle">-3</text>
<text x="138.0" y="364.2" text-anchor="middle">-2</text>
<text x="212.0" y="364.2" text-anchor="middle">-1</text>
<text x="289.2" y="364.2" text-anchor="middle">0</text>
<text x="363.2" y="364.2" text-anchor="middle">1</text>
<text x="437.2" y="364.2" text-anchor="middle">2</text>
<text x="512.2" y="364.2" text-anchor="middle">3</text>
<text x="63" y="16.3" text-anchor="end">0</text>
<text x="63" y="83.1" text-anchor="end">-2</text>
<text x="63" y="148.8" text-anchor="end">-4</text>
<text x="63" y="216.5" text-anchor="end">-6</text>
<text x="63" y="282.3" text-anchor="end">-8</text>
<text x="63" y="350.3" text-anchor="end">-10</text>
</g>
<rect x="204.5" y="191.5" width="173" height="106" fill="#fff" stroke="#262626"/>
<line x1="212" y1="206.1" x2="249.5" y2="206.1" stroke="#0a10e8" stroke-width="3.7"/>
<text x="252.5" y="213" font-size="19" textLength="118.0" lengthAdjust="spacingAndGlyphs">gap = 0.5 µm</text>
<line x1="212" y1="231.5" x2="249.5" y2="231.5" stroke="#55bb72" stroke-width="3.7" stroke-dasharray="11.5,3.5"/>
<text x="252.5" y="239.4" font-size="19" textLength="101.5" lengthAdjust="spacingAndGlyphs">gap = 1 µm</text>
<line x1="212" y1="257.1" x2="249.5" y2="257.1" stroke="#000" stroke-width="3.7"/>
<text x="252.5" y="265.4" font-size="19" textLength="118.0" lengthAdjust="spacingAndGlyphs">gap = 1.5 µm</text>
<line x1="212" y1="282.8" x2="249.5" y2="282.8" stroke="#dc2a2a" stroke-width="3.7" stroke-dasharray="10.2,4.5,3.4,4.5"/>
<text x="252.5" y="291.2" font-size="19" textLength="101.5" lengthAdjust="spacingAndGlyphs">gap = 2 µm</text>
<text x="288" y="390.6" font-size="25" text-anchor="middle" textLength="296" lengthAdjust="spacingAndGlyphs">Lateral Misalignment (µm)</text>
<text transform="translate(21,176) rotate(-90)" font-size="25" text-anchor="middle" textLength="274" lengthAdjust="spacingAndGlyphs">Coupling Efficiency (dB)</text>
</svg>
</body></html>
